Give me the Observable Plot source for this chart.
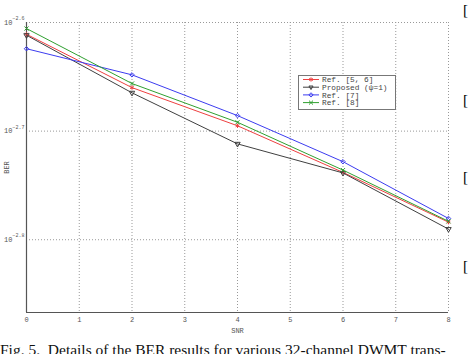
<!DOCTYPE html>
<html>
<head>
<meta charset="utf-8">
<script src="https://cdn.jsdelivr.net/npm/d3@7"></script>
<script src="https://cdn.jsdelivr.net/npm/@observablehq/plot@0.6"></script>
<style>
  html, body { margin: 0; padding: 0; background: #fff; }
  #wrap { position: relative; width: 474px; height: 354px; overflow: hidden; background: #fff; }
  #caption { position: absolute; left: 0; top: 341px; font-family: "Liberation Serif", serif; font-size: 15.5px; color: #111; white-space: nowrap; }
  .brk { position: absolute; left: 463px; font-family: "Liberation Serif", serif; font-size: 15px; color: #000; }
  #legend { position: absolute; left: 298px; top: 75px; width: 96px; height: 33px; border: 1px solid #777; background: #fff; }
</style>
</head>
<body>
<div id="wrap">
  <div id="chart"></div>
  <div id="legend"></div>
  <div id="caption">Fig. 5.&nbsp; Details of the BER results for various 32-channel DWMT trans-</div>
  <div class="brk" style="top:2px">[</div>
  <div class="brk" style="top:92px">[</div>
  <div class="brk" style="top:169px">[</div>
  <div class="brk" style="top:258px">[</div>
</div>
<script>
// ---- data ----
const snr = [0, 2, 4, 6, 8];
const seriesNames = ["Ref. [5, 6]", "Proposed (\u03c8=1)", "Ref. [7]", "Ref. [8]"];
const ref56    = [0.002450, 0.002188, 0.002018, 0.001828, 0.001645];
const proposed = [0.002445, 0.002164, 0.001942, 0.001826, 0.001621];
const ref7     = [0.002376, 0.002248, 0.002062, 0.001870, 0.001658];
const ref8     = [0.002480, 0.002207, 0.002033, 0.001837, 0.001648];
const xTicks = [0, 1, 2, 3, 4, 5, 6, 7, 8];
const yTickExps = [-2.6, -2.7, -2.8];
const yDomainExps = [-2.867, -2.6];

const colors = ["#ee4040", "#404040", "#3c3cf0", "#30a030"];
const symbols = ["asterisk", "triangle", "diamond2", "times"];
const rotates = [0, 180, 0, 0];

const seriesValues = [ref56, proposed, ref7, ref8];
const data = [];
seriesNames.forEach((name, i) => {
  snr.forEach((x, j) => data.push({series: name, idx: i, snr: x, ber: seriesValues[i][j]}));
});

const yMin = 10 ** yDomainExps[0], yMax = 10 ** yDomainExps[1];
const tickVals = yTickExps.map(e => 10 ** e);

const marks = [
  Plot.gridX(xTicks, {stroke: "#999", strokeOpacity: 1, strokeDasharray: "1,2"}),
  Plot.gridY(tickVals, {stroke: "#999", strokeOpacity: 1, strokeDasharray: "1,2"}),
  Plot.ruleY([yMin], {stroke: "#555", strokeWidth: 1.2}),
  Plot.ruleX([0], {stroke: "#555", strokeWidth: 1.2}),
  Plot.axisX({ticks: xTicks, tickSize: 0, tickPadding: 5, tickFormat: d => String(d), fill: "#555", fontSize: 7,
              label: "SNR", labelAnchor: "center", labelArrow: "none", labelOffset: 20}),
  Plot.axisY({ticks: tickVals, tickSize: 0, tickPadding: 14, tickFormat: () => "10", fill: "#555", fontSize: 7,
              label: "BER", labelAnchor: "center", labelArrow: "none", labelOffset: 22}),
  Plot.text(yTickExps, {x: () => 0, y: e => 10 ** e, text: e => "\u2212" + Math.abs(e).toFixed(1),
              textAnchor: "start", dx: -14, dy: -4, fontSize: 5, fill: "#555"})
];
seriesNames.forEach((name, i) => {
  const d = data.filter(r => r.idx === i);
  marks.push(Plot.line(d, {x: "snr", y: "ber", stroke: colors[i], strokeWidth: 1}));
  marks.push(Plot.dot(d, {x: "snr", y: "ber", stroke: colors[i], symbol: () => symbols[i], r: 2,
                          rotate: rotates[i], fill: "none", strokeWidth: 1}));
});

const chart = Plot.plot({
  width: 474, height: 354,
  marginLeft: 26, marginRight: 26, marginTop: 22, marginBottom: 42,
  style: {fontFamily: "'Liberation Mono', monospace", fontSize: "7px", color: "#555", background: "transparent"},
  x: {domain: [0, 8]},
  y: {type: "log", domain: [yMin, yMax]},
  marks
});
document.getElementById("chart").appendChild(chart);

// ---- legend ----
const lg = d3.select("#legend").append("svg").attr("width", 96).attr("height", 33)
  .style("font-family", "'Liberation Mono', monospace").style("font-size", "7.8px");
const symMap = {asterisk: d3.symbolAsterisk, triangle: d3.symbolTriangle2, diamond2: d3.symbolDiamond2, times: d3.symbolTimes};
seriesNames.forEach((name, i) => {
  const y = 3.5 + i * 7.7;
  lg.append("line").attr("x1", 4).attr("x2", 20).attr("y1", y).attr("y2", y).attr("stroke", colors[i]).attr("stroke-width", 1);
  lg.append("path").attr("d", d3.symbol(symMap[symbols[i]], 12)())
    .attr("transform", `translate(12,${y}) rotate(${rotates[i]})`)
    .attr("fill", "none").attr("stroke", colors[i]).attr("stroke-width", 1);
  lg.append("text").attr("x", 23).attr("y", y).attr("dy", "0.35em").attr("fill", "#444").text(name);
});
</script>
</body>
</html>
